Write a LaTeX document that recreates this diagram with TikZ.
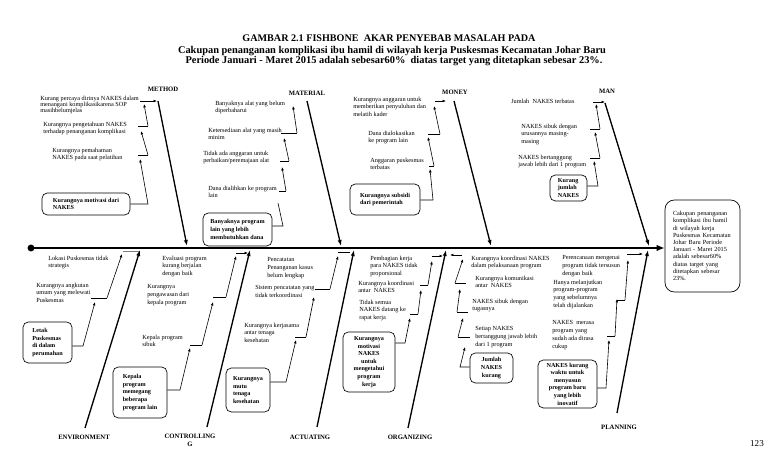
\documentclass[tikz,border=0pt]{standalone}
\usepackage{fontspec}
\setmainfont{Liberation Serif}
\usetikzlibrary{arrows.meta}
\begin{document}
\begin{tikzpicture}[x=0.75pt,y=-0.75pt,
  sm/.style={font=\fontsize{4.7}{5.8}\selectfont, align=left, inner sep=0pt, anchor=north west},
  lbl/.style={font=\fontsize{5}{6.2}\selectfont\bfseries, inner sep=0pt, align=center},
  cbox/.style={draw, rounded corners=4pt, line width=0.5pt, font=\fontsize{4.6}{5.7}\selectfont\bfseries, inner sep=0pt},
  ttl/.style={font=\fontsize{7.8}{9}\selectfont\bfseries, inner sep=0pt},
  bone/.style={line width=1pt, -{Latex[length=4.5pt,width=3.2pt]}},
  spine/.style={line width=1.7pt, -{Latex[length=6pt,width=5pt]}},
  arr/.style={line width=0.45pt, -{Latex[length=2.6pt,width=2pt]}},
  ln/.style={line width=0.45pt},
]
\useasboundingbox (0,0) rectangle (768,466);
\fill[white] (0,0) rectangle (768,466);

% ---------- title ----------
\node[ttl, font=\fontsize{7.6}{9}\selectfont\bfseries] (t1) at (389,38) {GAMBAR 2.1 FISHBONE\ \ AKAR PENYEBAB MASALAH PADA};
\node[ttl] (t2) at (392,51.5) {Cakupan penanganan komplikasi ibu hamil di wilayah kerja Puskesmas Kecamatan Johar Baru};
\node[ttl] (t3) at (394,61.5) {Periode Januari - Maret 2015 adalah sebesar60\%\ \ diatas target yang ditetapkan sebesar 23\%.};
\node[font=\fontsize{6.8}{8}\selectfont, inner sep=0pt] (pg) at (757,444) {123};

% ---------- result box and spine ----------
\node[draw, rounded corners=7pt, line width=0.5pt, minimum width=56.25pt, minimum height=69pt,
      text width=44.25pt, inner xsep=6pt, inner ysep=0pt, align=left,
      font=\fontsize{4.7}{5.4}\selectfont] (res) at (702.5,246)
 {Cakupan penanganan\\ komplikasi ibu hamil\\ di wilayah kerja\\ Puskesmas Kecamatan\\ Johar Baru Periode\\ Januari - Maret 2015\\ adalah sebesar60\%\\ diatas target yang\\ ditetapkan sebesar\\ 23\%.};
\coordinate (spL) at (31,248);
\draw[spine] (spL) -- (res.west |- spL);
\fill (spL) circle[radius=2.6pt];

% ---------- bones ----------
\coordinate (mT) at (158,101); \coordinate (mB) at (187,246);
\coordinate (aT) at (307,101); \coordinate (aB) at (341,246);
\coordinate (oT) at (454,101); \coordinate (oB) at (491,246);
\coordinate (nT) at (605,103); \coordinate (nB) at (649,246);
\coordinate (eT) at (85,428);  \coordinate (eB) at (140,250);
\coordinate (cT) at (207,427); \coordinate (cB) at (250,250);
\coordinate (uT) at (317,427); \coordinate (uB) at (354,250);
\coordinate (gT) at (408,428); \coordinate (gB) at (446,250);
\coordinate (pT) at (617,413); \coordinate (pB) at (648,250);
\foreach \a/\b in {mT/mB,aT/aB,oT/oB,nT/nB,eT/eB,cT/cB,uT/uB,gT/gB,pT/pB}
  \draw[bone] (\a) -- (\b);

% ---------- bone labels ----------
\node[lbl] (lm) at (163,89) {METHOD};
\node[lbl] (la) at (307,93) {MATERIAL};
\node[lbl] (lo) at (455,92) {MONEY};
\node[lbl] (ln) at (607,91) {MAN};
\node[lbl] (le) at (84,437) {ENVIRONMENT};
\node[lbl, anchor=north] (lc) at (190,434) {CONTROLLING\\G};
\node[lbl] (lu) at (310,437) {ACTUATING};
\node[lbl] (lg) at (410,437) {ORGANIZING};
\node[lbl] (lp) at (619,427) {PLANNING};

% ---------- METHOD ----------
\node[sm, font=\fontsize{4.7}{4.3}\selectfont] (m1) at (40,96) {Kurang percaya dirinya NAKES dalam\\ menangani komplikasikarena SOP\\ masihbelumjelas};
\node[sm] (m2) at (43,121.5) {Kurangnya pengetahuan NAKES\\ terhadap penanganan komplikasi};
\node[sm] (m3) at (52,147.5) {Kurangnya pemahaman\\ NAKES pada saat pelatihan};
\node[cbox, minimum width=66pt, minimum height=16.5pt, align=left] (bm) at (86,204) {Kurangnya motivasi dari\\ NAKES\hphantom{motivasi dari}};
\draw[arr] (bm.east) -- (148,204) -- (140,159);
\draw[ln] (138,155) -- (148,155);
\draw[arr] (148,155) -- (141,131);
\draw[ln] (138,126) -- (148,126);
\draw[arr] (148,126) -- (144,104);
\draw[arr] (140,101) -- (157,101);

% ---------- MATERIAL ----------
\node[sm] (a1) at (215,100.5) {Banyaknya alat yang belum\\ diperbaharui};
\node[sm] (a2) at (208,127.5) {Ketersediaan alat yang masih\\ minim};
\node[sm] (a3) at (203,150.5) {Tidak ada anggaran untuk\\ perbaikan/peremajaan alat};
\node[sm] (a4) at (208,185.5) {Dana dialihkan ke program\\ lain};
\node[cbox, minimum width=51.75pt, minimum height=24.75pt, align=left] (ba) at (237.5,229.5) {Banyaknya program\\ lain yang lebih\\ membutuhkan dana};
\draw[ln] (ba.east |- 0,226) -- (283,226) -- (278,203);
\draw[ln] (279,191) -- (286,191);
\draw[arr] (286,191) -- (282,167);
\draw[ln] (280,161) -- (289,161);
\draw[arr] (289,161) -- (284,138);
\draw[ln] (281,133) -- (297,133);
\draw[arr] (297,133) -- (293,106);

% ---------- MONEY ----------
\node[sm] (o1) at (353,96.5) {Kurangnya anggaran untuk\\ memberikan penyuluhan dan\\ melatih kader};
\node[sm] (o2) at (368,130.5) {Dana dialokasikan\\ ke program lain};
\node[sm] (o3) at (370,157.5) {Anggaran puskesmas\\ terbatas};
\node[cbox, minimum width=52.5pt, minimum height=23.25pt, align=left] (bo) at (385,199.5) {Kurangnya subsidi\\ dari pemerintah};
\draw[arr] (bo.east |- 0,200) -- (433,200) -- (430,169);
\draw[ln] (429,166) -- (434,166);
\draw[arr] (434,166) -- (428,137);
\draw[ln] (428,134) -- (440,134);
\draw[arr] (440,134) -- (434,106);
\draw[arr] (435,101) -- (446,101);

% ---------- MAN ----------
\node[sm] (n1) at (511,98.5) {Jumlah\ \ NAKES terbatas};
\node[sm] (n2) at (521,123.5) {NAKES sibuk dengan\\ urusannya masing-\\ masing};
\node[sm] (n3) at (518,154.5) {NAKES bertanggung\\ jawab lebih dari 1 program};
\node[cbox, minimum width=27.75pt, minimum height=19.5pt, align=left] (bn) at (568.5,188) {Kurang\\ jumlah\\ NAKES};
\draw[arr] (bn.east |- 0,186) -- (598,186) -- (594,161);
\draw[ln] (590,158) -- (600,158);
\draw[arr] (600,158) -- (595,132);
\draw[ln] (590,129) -- (600,129);
\draw[arr] (600,129) -- (596,104);
\draw[arr] (593,102) -- (605,102);

% ---------- ENVIRONMENT ----------
\node[sm] (e1) at (48,255.5) {Lokasi Puskesmas tidak\\ strategis};
\node[sm] (e2) at (36,282.5) {Kurangnya angkutan\\ umum yang melewati\\ Puskesmas};
\node[cbox, minimum width=36.75pt, minimum height=30.75pt, align=left] (be) at (47.5,342.5) {Letak\\ Puskesmas\\ di dalam\\ perumahan};
\draw[arr] (be.east |- 0,346) -- (83,346) -- (95,302);
\draw[ln] (91,298) -- (107,298);
\draw[arr] (107,298) -- (122,254);
\draw[line width=1.2pt, gray] (123,251.5) -- (139,251.5);

% ---------- CONTROLLING ----------
\node[sm] (c1) at (162,255.5) {Evaluasi program\\ kurang berjalan\\ dengan baik};
\node[sm] (c2) at (147,284.5) {Kurangnya\\ pengawasan dari\\ kepala program};
\node[sm] (c3) at (142,334.5) {Kepala program\\ sibuk};
\node[cbox, minimum width=40.5pt, minimum height=38.25pt, align=left] (bc) at (140,392.5) {Kepala\\ program\\ memegang\\ beberapa\\ program lain};
\draw[arr] (bc.east |- 0,390) -- (180,390) -- (190,348);
\draw[ln] (190,345) -- (202,345);
\draw[arr] (202,345) -- (213,302);
\draw[ln] (213,297) -- (226,297);
\draw[arr] (226,297) -- (236,256);
\draw[arr] (236,253) -- (248,253);

% ---------- ACTUATING ----------
\node[sm] (u1) at (267,257.5) {Pencatatan\\ Penanganan kasus\\ belum lengkap};
\node[sm] (u2) at (255,285.5) {Sistem pencatatan yang\\ tidak terkoordinasi};
\node[sm] (u3) at (244,322.5) {Kurangnya kerjasama\\ antar tenaga\\ kesehatan};
\node[cbox, minimum width=33pt, minimum height=33pt, align=left] (bu) at (248,390) {Kurangnya\\ mutu\\ tenaga\\ kesehatan};
\draw[arr] (bu.east |- 0,382) -- (286,382) -- (296,340);
\draw[ln] (295,337) -- (306,337);
\draw[arr] (306,337) -- (314,297);
\draw[ln] (315,289) -- (330,289);
\draw[arr] (330,289) -- (338,256);
\draw[ln] (338,252) -- (350,252);

% ---------- ORGANIZING ----------
\node[sm] (g1) at (370,255.5) {Pembagian kerja\\ para NAKES tidak\\ proporsional};
\node[sm] (g2) at (358,280.5) {Kurangnya koordinasi\\ antar\ \ NAKES};
\node[sm] (g3) at (359,299.5) {Tidak semua\\ NAKES datang ke\\ rapat kerja};
\node[cbox, minimum width=39pt, minimum height=45pt, align=center] (bg) at (369,362) {Kurangnya\\ motivasi\\ NAKES\\ untuk\\ mengetahui\\ program\\ kerja};
\draw[arr] (bg.east |- 0,343) -- (405,343) -- (410,318);
\draw[ln] (410,314) -- (418,314);
\draw[arr] (418,314) -- (421,290);
\draw[ln] (420,285) -- (428,285);
\draw[arr] (428,285) -- (432,261);
\draw[arr] (432,256) -- (443,256);

% ---------- second ORGANIZING chain ----------
\node[sm] (h1) at (471,255.5) {Kurangnya koordinasi NAKES\\ dalam pelaksanaan program};
\node[sm] (h2) at (475,275.5) {Kurangnya komunikasi\\ antar\ \ NAKES};
\node[sm] (h3) at (472,298.5) {NAKES sibuk dengan\\ tugasnya};
\node[sm] (h4) at (475,326.5) {Setiap NAKES\\ bertanggung jawab lebih\\ dari 1 program};
\node[cbox, minimum width=32.25pt, minimum height=22.5pt, align=center] (bh) at (491.5,368) {Jumlah\\ NAKES\\ kurang};
\draw[arr] (bh.west |- 0,367) -- (460,367) -- (465,347);
\draw[ln] (458,337) -- (470,337);
\draw[arr] (458,337) -- (463,318);
\draw[ln] (457,312) -- (468,312);
\draw[arr] (457,312) -- (460,289);
\draw[ln] (455,283) -- (466,283);
\draw[arr] (455,283) -- (463,259);
\draw[arr] (462,255) -- (450,255);

% ---------- PLANNING ----------
\node[sm] (p1) at (562,255.5) {Perencanaan mengenai\\ program tidak tersusun\\ dengan baik};
\node[sm] (p2) at (553,279.5) {Hanya melanjutkan\\ program-program\\ yang sebelumnya\\ telah dijalankan};
\node[sm] (p3) at (552,320.5) {NAKES\ \ merasa\\ program yang\\ sudah ada dirasa\\ cukup};
\node[cbox, minimum width=44.25pt, minimum height=36pt, align=center] (bp) at (567.5,384) {NAKES kurang\\ waktu untuk\\ menyusun\\ program baru\\ yang lebih\\ inovatif};
\draw[arr] (bp.east |- 0,388) -- (606,388) -- (609,340);
\draw[ln] (607,336) -- (615,336);
\draw[arr] (615,336) -- (617,299);
\draw[ln] (617,300) -- (625,300);
\draw[arr] (625,300) -- (628,260);
\draw[arr] (627,254) -- (643,254);
\end{tikzpicture}
\end{document}
